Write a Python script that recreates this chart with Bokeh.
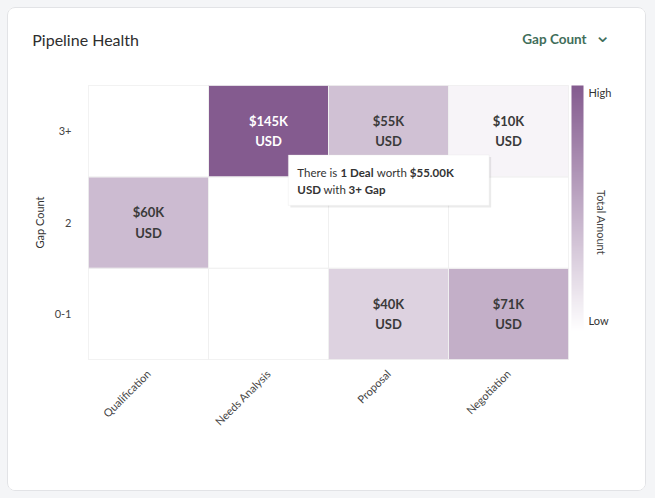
import numpy as np
from bokeh.plotting import figure
from bokeh.models import (ColumnDataSource, FactorRange, LinearColorMapper, ColorBar,
                          FixedTicker, Label, BoxAnnotation)
from bokeh.transform import dodge
from bokeh.core.properties import value
from bokeh.embed import file_html
from bokeh.resources import INLINE

# ---- data ----
stages = ["Qualification", "Needs Analysis", "Proposal", "Negotiation"]
gap_levels = ["0-1", "2", "3+"]  # bottom to top
cell_stage = ["Qualification", "Qualification", "Qualification",
              "Needs Analysis", "Needs Analysis", "Needs Analysis",
              "Proposal", "Proposal", "Proposal",
              "Negotiation", "Negotiation", "Negotiation"]
cell_gap = ["0-1", "2", "3+"] * 4
amount_k = [None, 60, None,
            None, None, 145,
            40, None, 55,
            71, None, 10]
color_low, color_high = 0, 145
tooltip_deals = 1
tooltip_amount = "$55.00K"
tooltip_gap = "3+"

FONT = "Lato"

# ---- derived ----
amt = [np.nan if a is None else float(a) for a in amount_k]
lbl_top = ["" if a is None else f"${a}K" for a in amount_k]
lbl_bot = ["" if a is None else "USD" for a in amount_k]
txt_col = ["#ffffff" if (a is not None and a > 100) else "#3a3a3a" for a in amount_k]
src = ColumnDataSource(dict(stage=cell_stage, gap=cell_gap, amt=amt,
                            top=lbl_top, bot=lbl_bot, tcol=txt_col))


def hexlerp(c0, c1, n):
    a = np.array([int(c0[i:i + 2], 16) for i in (1, 3, 5)], float)
    b = np.array([int(c1[i:i + 2], 16) for i in (1, 3, 5)], float)
    out = []
    for t in np.linspace(0, 1, n):
        c = a + (b - a) * t
        out.append("#%02x%02x%02x" % tuple(int(round(v)) for v in c))
    return out


palette = hexlerp("#ffffff", "#845b8f", 256)
mapper = LinearColorMapper(palette=palette, low=color_low, high=color_high, nan_color="#ffffff")

W, H = 639, 484
OX, OY = 8, 8           # intended page offset of the card
FX0, FX1, FY0, FY1 = 89, 567, 86, 358  # page pixels of the frame

p = figure(width=W, height=H, output_backend="svg", toolbar_location=None,
           x_range=FactorRange(*stages), y_range=FactorRange(*gap_levels),
           min_border_left=FX0 - OX - 1, min_border_right=OX + W - FX1 - 1,
           min_border_top=FY0 - OY - 1, min_border_bottom=OY + H - FY1 - 1,
           background_fill_color="#ffffff", border_fill_color="#ffffff")
p.styles = {"border": "1px solid #e2e3e6", "border-radius": "8px",
            "box-shadow": "0 0 0 40px #f4f5f7", "overflow": "hidden",
            "margin-left": "7px", "margin-top": "7px"}
p.outline_line_color = "#f0f0f0"
p.grid.grid_line_color = None

p.rect(x="stage", y="gap", width=1, height=1, source=src,
       fill_color={"field": "amt", "transform": mapper},
       line_color="#f0f0f0", line_width=1)

p.text(x="stage", y=dodge("gap", 0.11, range=p.y_range), text="top", source=src,
       text_color="tcol", text_font=value(FONT), text_font_style="bold",
       text_font_size="13px", text_align="center", text_baseline="middle")
p.text(x="stage", y=dodge("gap", -0.11, range=p.y_range), text="bot", source=src,
       text_color="tcol", text_font=value(FONT), text_font_style="bold",
       text_font_size="13px", text_align="center", text_baseline="middle")

for ax in (p.xaxis[0], p.yaxis[0]):
    ax.axis_line_color = None
    ax.major_tick_line_color = None
    ax.minor_tick_line_color = None
    ax.major_label_text_font = FONT
    ax.major_label_text_font_size = "11px"
    ax.major_label_text_color = "#444444"

p.xaxis.major_label_orientation = np.pi / 4
p.xaxis.major_label_standoff = 6
p.yaxis.major_label_standoff = 11
p.yaxis.axis_label = "Gap Count"
p.yaxis.axis_label_text_font = FONT
p.yaxis.axis_label_text_font_style = "normal"
p.yaxis.axis_label_text_font_size = "11px"
p.yaxis.axis_label_text_color = "#333333"
p.yaxis.axis_label_standoff = 6

hi_tick = color_high * (1 - 7 / 246)
lo_tick = color_high * (11 / 246)
cb = ColorBar(color_mapper=mapper, width=12, height=246, padding=3, margin=0,
              location=(0, 25), bar_line_color=None, major_tick_line_color=None,
              minor_tick_line_color=None,
              ticker=FixedTicker(ticks=[lo_tick, hi_tick]),
              major_label_overrides={lo_tick: "Low", hi_tick: "High"},
              major_label_text_font=FONT, major_label_text_font_size="11px",
              major_label_text_color="#333333", label_standoff=5,
              background_fill_color=None, border_line_color=None)
p.add_layout(cb, "right")


def dx(px):
    return (px - FX0) / (FX1 - FX0) * len(stages)


def dy(py):
    return (FY1 - py) / (FY1 - FY0) * len(gap_levels)


def lab(px, py, text, size="11px", style="normal", color="#333333", font=FONT,
        align="left", angle=0.0, place=None):
    lbl = Label(x=dx(px), y=dy(py), text=text, text_font=font,
                text_font_size=size, text_font_style=style, text_color=color,
                text_align=align, text_baseline="middle", angle=angle)
    if place is None:
        p.add_layout(lbl)
    else:
        p.add_layout(lbl, place)


# tooltip
p.add_layout(BoxAnnotation(left=dx(290), right=dx(490), top=dy(157), bottom=dy(207),
                           fill_color="#000000", fill_alpha=0.08, line_color=None))
p.add_layout(BoxAnnotation(left=dx(288), right=dx(488), top=dy(155), bottom=dy(205),
                           fill_color="#ffffff", fill_alpha=1.0, line_color="#e6e6e6"))
lab(297, 172, "There is", size="11.5px", color="#333333")
lab(340, 172, f"{tooltip_deals} Deal", size="11.5px", style="bold", color="#333333")
lab(376, 172, "worth", size="11.5px", color="#333333")
lab(409, 172, tooltip_amount, size="11.5px", style="bold", color="#333333")
lab(297, 189, "USD", size="11.5px", style="bold", color="#333333")
lab(323, 189, "with", size="11.5px", color="#333333")
lab(348, 189, f"{tooltip_gap} Gap", size="11.5px", style="bold", color="#333333")

# labels outside the frame live in side panels (so they are not clipped to the frame);
# their positions are still given in data units, independent of the panel
lab(33, 40, "Pipeline Health", size="16px", color="#2e2e2e", place="above")
lab(521, 40, "Gap Count", size="13.5px", style="bold", color="#3f6e5a", place="below")
lab(601, 36, "⌄", size="20px", color="#3f6e5a", font="DejaVu Sans", align="center",
    place="below")
lab(600, 222, "Total Amount", size="11px", color="#444444", align="center",
    angle=-np.pi / 2, place="right")

open("out.html", "w").write(file_html(p, INLINE))
